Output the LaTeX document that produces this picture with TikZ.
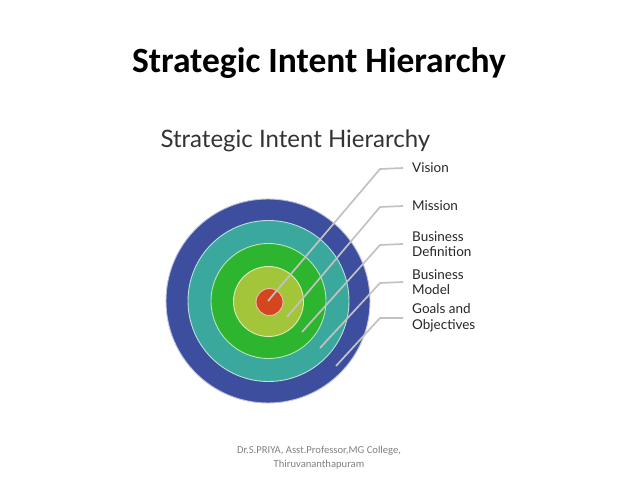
\documentclass[tikz,border=0pt]{standalone}
\usepackage{fontspec}
\setmainfont{Carlito}
\newfontfamily\labelfont{Lato}
\usepackage{tikz}

\definecolor{ringblue}{HTML}{3D4E9E}
\definecolor{ringteal}{HTML}{3AA89C}
\definecolor{ringgreen}{HTML}{2EB52F}
\definecolor{ringlime}{HTML}{A3C53A}
\definecolor{ringred}{HTML}{D4461E}
\definecolor{leadgray}{HTML}{C2C2C2}

\begin{document}
\begin{tikzpicture}[x=1pt,y=-1pt]
\tikzset{ring/.style = {circle,draw=white!65!#1,fill=#1,line width=0.9pt,inner sep=0pt}}
\tikzset{tag/.style = {anchor=west,align=left,font=\labelfont\fontsize{13.5}{15.5}\selectfont,text=black!85,inner xsep=9pt,inner ysep=1pt}}
\tikzset{lead/.style = {draw=leadgray,line width=1.7pt}}
\useasboundingbox (0,0) rectangle (638,478);
% titles
\node (title) at (319,63) {\fontsize{35.5}{40}\selectfont\bfseries Strategic Intent Hierarchy};
\node[anchor=west,font=\labelfont\fontsize{24}{28}\selectfont,text=black!80] (sub) at (157,141) {Strategic Intent Hierarchy};
% rings
\node[ring=ringblue,minimum size=204pt] (r5) at (268,301) {};
\node[ring=ringteal,minimum size=161pt] (r4) at (268.5,301) {};
\node[ring=ringgreen,minimum size=115pt] (r3) at (268.5,301) {};
\node[ring=ringlime,minimum size=70pt] (r2) at (268.5,301.5) {};
\node[ring=ringred,minimum size=27pt] (r1) at (269.5,302) {};
% labels
\node[tag] (vision) at (403,168) {Vision};
\node[tag] (mission) at (403,206) {Mission};
\node[tag] (bdef) at (403,244) {Business\\Definition};
\node[tag] (bmod) at (403,282) {Business\\Model};
\node[tag] (goals) at (403,318) {Goals and\\Objectives};
% leader ends
\coordinate (e1) at (268,301);
\coordinate (e2) at (287,317);
\coordinate (e3) at (302,332);
\coordinate (e4) at (320,348);
\coordinate (e5) at (336,366);
\coordinate (k1) at (380,169);
\coordinate (k2) at (380,207);
\coordinate (k3) at (380,245);
\coordinate (k4) at (380,283);
\coordinate (k5) at (380,318);
% leaders
\draw[lead] (e1) -- (k1) -- (vision.west);
\draw[lead] (e2) -- (k2) -- (mission.west);
\draw[lead] (e3) -- (k3) -- (bdef.west);
\draw[lead] (e4) -- (k4) -- (bmod.west);
\draw[lead] (e5) -- (k5) -- (goals.west);
% footer
\node[align=center,font=\fontsize{10.6}{14}\selectfont,text=black!50] (foot) at (319,458) {Dr.S.PRIYA, Asst.Professor,MG College,\\Thiruvananthapuram};
\end{tikzpicture}
\end{document}
